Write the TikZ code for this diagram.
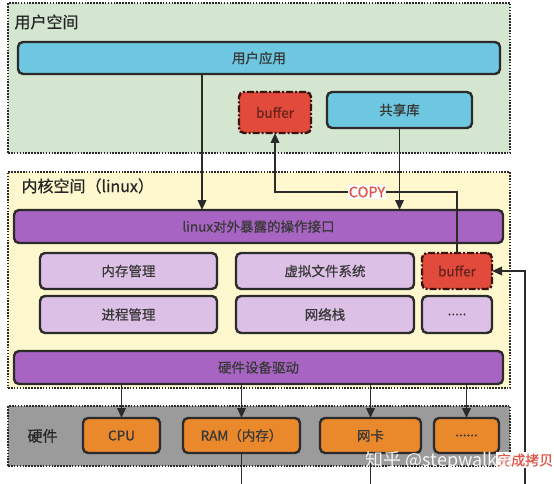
\documentclass[tikz,border=0pt]{standalone}
\usepackage{fontspec}
\setmainfont{Noto Sans CJK SC}
\newfontfamily\boxfont[FakeBold=0.7]{Noto Sans CJK SC}
\usepackage{tikz}
\usetikzlibrary{positioning, arrows.meta}

\definecolor{usergreen}{HTML}{D4E6CF}
\definecolor{kernelyellow}{HTML}{FFF8CE}
\definecolor{hwgray}{HTML}{9B9B9B}
\definecolor{appblue}{HTML}{6DC7E0}
\definecolor{bufred}{HTML}{E24B3B}
\definecolor{apipurple}{HTML}{A864C2}
\definecolor{modpurple}{HTML}{DCC0E6}
\definecolor{devorange}{HTML}{EA882C}
\definecolor{edgedark}{HTML}{2B2B2B}
\definecolor{copyred}{HTML}{E0574A}

\begin{document}
\begin{tikzpicture}[x=1pt, y=-1pt,
    region/.style={draw=edgedark, line width=1.9pt, dash pattern=on 1.6pt off 1.3pt, inner sep=0pt, outer sep=0pt},
    box/.style={draw=edgedark, line width=2.4pt, rounded corners=5pt, inner sep=0pt, outer sep=0pt, text=black!78, font=\boxfont\fontsize{13.5}{15}\selectfont},
    bufbox/.style={box, fill=bufred, draw=black!75!bufred, dash pattern=on 7pt off 2pt on 2pt off 2pt, text=black!55!bufred},
    arr/.style={draw=edgedark, line width=1.9pt, -{Triangle[length=10pt,width=8.5pt]}},
    wire/.style={draw=edgedark, line width=1.9pt}]
    \useasboundingbox (0,0) rectangle (554,484);

    \node[region, fill=usergreen, minimum width=502pt, minimum height=150pt](user) at (259,78) {};
    \node[region, fill=kernelyellow, minimum width=502pt, minimum height=216pt](kernel) at (259,280) {};
    \node[region, fill=hwgray, minimum width=502pt, minimum height=60pt](hw) at (259,436) {};

    \node[anchor=west, font=\boxfont\fontsize{16}{18}\selectfont, text=black!85](usertitle) at (11,22) {用户空间};
    \node[anchor=west, font=\boxfont\fontsize{16}{18}\selectfont, text=black!85](kerneltitle) at (18,186) {内核空间（linux）};
    \node[anchor=west, font=\boxfont\fontsize{15}{17}\selectfont, text=black!85](hwtitle) at (24,436) {硬件};

    \node[box, fill=appblue, minimum width=482pt, minimum height=32pt](app) at (259,58) {用户应用};
    \node[bufbox, minimum width=72pt, minimum height=41pt](ubuf) at (275,112.5) {buffer};
    \node[box, fill=appblue, minimum width=145pt, minimum height=36pt](lib) at (399.5,110) {共享库};

    \node[box, fill=apipurple, minimum width=489pt, minimum height=33pt](api) at (258.5,226.5) {linux对外暴露的操作接口};
    \node[box, fill=modpurple, minimum width=177pt, minimum height=36pt](mem) at (128.5,271) {内存管理};
    \node[box, fill=modpurple, minimum width=178pt, minimum height=36pt](vfs)[right = 19pt of mem] {虚拟文件系统};
    \node[bufbox, minimum width=70pt, minimum height=36pt](kbuf)[right = 8pt of vfs] {buffer};
    \node[box, fill=modpurple, minimum width=177pt, minimum height=37pt](proc)[below = 7pt of mem] {进程管理};
    \node[box, fill=modpurple, minimum width=178pt, minimum height=37pt](net)[right = 19pt of proc] {网络栈};
    \node[box, fill=modpurple, minimum width=70pt, minimum height=37pt](kdots)[right = 8pt of net] {.....};
    \node[box, fill=apipurple, minimum width=489pt, minimum height=33pt](drv) at (258.5,367.5) {硬件设备驱动};

    \node[box, fill=devorange, minimum width=77pt, minimum height=35pt](cpu) at (121.5,435.5) {CPU};
    \node[box, fill=devorange, minimum width=117pt, minimum height=35pt](ram)[right = 23pt of cpu] {RAM（内存）};
    \node[box, fill=devorange, minimum width=101pt, minimum height=35pt](nic)[right = 20pt of ram] {网卡};
    \node[box, fill=devorange, minimum width=65pt, minimum height=35pt](hdots)[right = 13pt of nic] {......};

    \coordinate (copyline) at (0,192);
    \coordinate (rightin) at (525,484);

    \draw[arr] ([xshift=-57pt]app.south) -- ([xshift=-57pt]app.south |- api.north);
    \draw[arr] (lib.south) -- (lib.south |- api.north);
    \draw[arr] (kbuf.north) -- (kbuf.north |- copyline) -- (ubuf.south |- copyline) -- (ubuf.south);
    \node[fill=white, inner sep=1pt, text=copyred, font=\boxfont\fontsize{14.5}{16}\selectfont](copy) at (367,192) {COPY};

    \draw[arr] (drv.south -| cpu.north) -- (cpu.north);
    \draw[arr] (drv.south -| ram.north) -- (ram.north);
    \draw[arr] (drv.south -| nic.north) -- (nic.north);
    \draw[arr] (drv.south -| hdots.north) -- (hdots.north);

    \draw[wire] (ram.south) -- (ram.south |- rightin);
    \draw[wire] (nic.south) -- (nic.south |- rightin);
    \draw[arr] (rightin) |- (kbuf.east);

    \node[anchor=west, fill=white, inner sep=1pt, text=copyred, font=\boxfont\fontsize{14}{16}\selectfont](done) at (496,460) {完成拷贝};
    \node[anchor=west, text=white, opacity=0.9, font=\fontsize{18}{20}\selectfont](mark) at (362,461) {知乎 @stepwalker};
\end{tikzpicture}
\end{document}
